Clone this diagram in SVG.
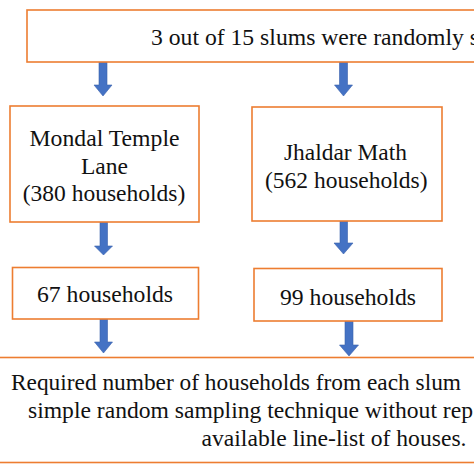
<svg xmlns="http://www.w3.org/2000/svg" width="474" height="474" viewBox="0 0 474 474">
<style>
.box{fill:#ffffff;stroke:#ED7D31;stroke-width:1.6}
.t{font-size:23.5px;fill:#111111}
.c{text-anchor:middle}
.arr{fill:#4472C4;stroke:#3A62AC;stroke-width:0.6}
</style>
<rect width="474" height="474" fill="#ffffff"/>
<g id="connectors">
<path class="arr" d="M99,62 H107 V85 H112 L103,96 L94,85 H99 Z"/>
<path class="arr" d="M339.5,62 H347.5 V85 H352.5 L343.5,96 L334.5,85 H339.5 Z"/>
<path class="arr" d="M100,222 H107.5 V246 H112.5 L103.5,255 L94.5,246 H100 Z"/>
<path class="arr" d="M340,221 H347.5 V243 H353 L343.5,254 L334,243 H340 Z"/>
<path class="arr" d="M100,319 H107.5 V342 H112.5 L103.5,353 L94.5,342 H100 Z"/>
<path class="arr" d="M345,321 H353 V345 H358.5 L349,356 L339.5,345 H345 Z"/>
</g>
<g font-family="Liberation Serif, DejaVu Serif, Times, FreeSerif, Nimbus Roman, serif">
<g id="node-top">
<rect class="box" x="27" y="10" width="520" height="52"/>
<text class="t" x="151" y="44.5" textLength="328" lengthAdjust="spacingAndGlyphs">3 out of 15 slums were randomly s</text>
</g>
<g id="node-mondal">
<rect class="box" x="10" y="106" width="189" height="116"/>
<text class="t c" x="104.5" y="146" textLength="150" lengthAdjust="spacingAndGlyphs">Mondal Temple</text>
<text class="t c" x="104.5" y="173.5" textLength="47" lengthAdjust="spacingAndGlyphs">Lane</text>
<text class="t c" x="104" y="201" textLength="162.5" lengthAdjust="spacingAndGlyphs">(380 households)</text>
</g>
<g id="node-jhaldar">
<rect class="box" x="252" y="107" width="190" height="114"/>
<text class="t c" x="345.5" y="159.5" textLength="123" lengthAdjust="spacingAndGlyphs">Jhaldar Math</text>
<text class="t c" x="346.3" y="187.5" textLength="162.5" lengthAdjust="spacingAndGlyphs">(562 households)</text>
</g>
<g id="node-67">
<rect class="box" x="12.5" y="267.5" width="186" height="51.5"/>
<text class="t c" x="105" y="302" textLength="136" lengthAdjust="spacingAndGlyphs">67 households</text>
</g>
<g id="node-99">
<rect class="box" x="254" y="268.5" width="188" height="52.5"/>
<text class="t c" x="348" y="304.5" textLength="136" lengthAdjust="spacingAndGlyphs">99 households</text>
</g>
<g id="node-bottom">
<rect class="box" x="-20" y="357.5" width="700" height="105"/>
<text class="t" x="11" y="390" textLength="450" lengthAdjust="spacingAndGlyphs">Required number of households from each slum</text>
<text class="t" x="28" y="417.5" textLength="445" lengthAdjust="spacingAndGlyphs">simple random sampling technique without rep</text>
<text class="t" x="201.5" y="446" textLength="265" lengthAdjust="spacingAndGlyphs">available line-list of houses.</text>
</g>
</g>
</svg>
